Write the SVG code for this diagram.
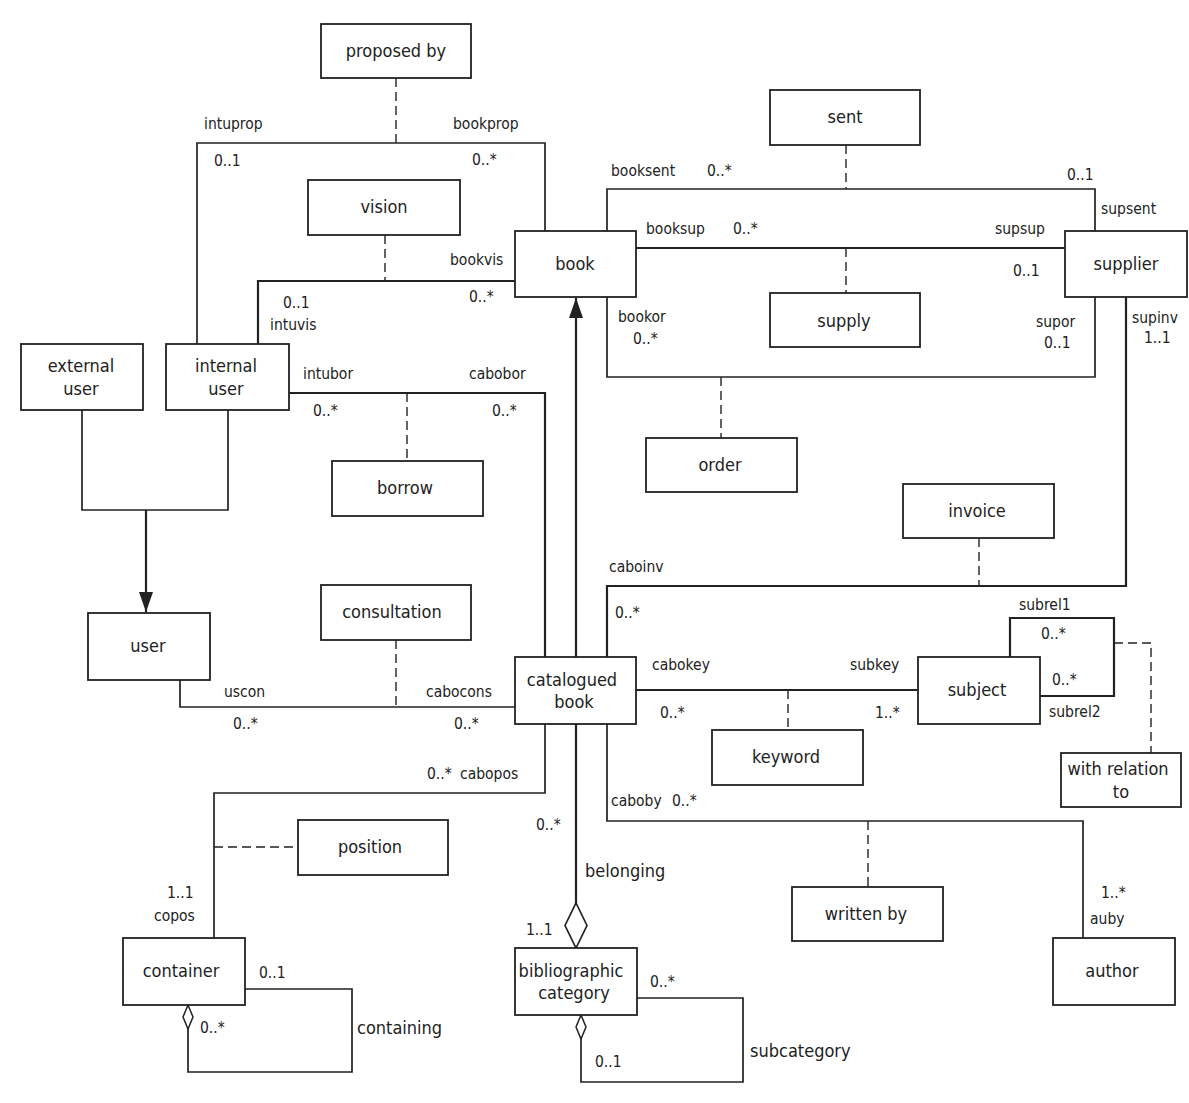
<svg xmlns="http://www.w3.org/2000/svg" width="1189" height="1103" viewBox="0 0 1189 1103">
<style>
.box{fill:#fff;stroke:#222;stroke-width:1.8}
.nt{font-family:"DejaVu Sans Condensed","DejaVu Sans",sans-serif;font-size:18px;fill:#222;text-anchor:middle}
.lb{font-family:"DejaVu Sans Condensed","DejaVu Sans",sans-serif;font-size:15.5px;fill:#222}
.big{font-size:18px}
.ln{fill:none;stroke:#222;stroke-width:1.7}
.th{stroke-width:2.2}
.ds{fill:none;stroke:#222;stroke-width:1.4;stroke-dasharray:9,5}
</style>
<defs>
<marker id="tri" markerUnits="userSpaceOnUse" viewBox="0 0 20 14" refX="20" refY="7" markerWidth="20" markerHeight="14" orient="auto">
<path d="M0,0 L20,7 L0,14 z" fill="#222"/>
</marker>
<marker id="dbig" markerUnits="userSpaceOnUse" viewBox="-1 -1 47 24" refX="45" refY="11" markerWidth="47" markerHeight="24" orient="auto">
<path d="M0,11 L22.5,0 L45,11 L22.5,22 z" fill="#fff" stroke="#222" stroke-width="1.7"/>
</marker>
<marker id="dsm" markerUnits="userSpaceOnUse" viewBox="-1 -1 26 12" refX="24" refY="5" markerWidth="26" markerHeight="12" orient="auto">
<path d="M0,5 L12,0 L24,5 L12,10 z" fill="#fff" stroke="#222" stroke-width="1.5"/>
</marker>
</defs>
<rect width="1189" height="1103" fill="#fff"/>
<g id="connectors">
<path class="ln" d="M197,344 V143 H545 V231"/>
<path class="ds" d="M396,78 V143"/>
<path class="ln th" d="M258,344 V281 H515"/>
<path class="ds" d="M385,235 V281"/>
<path class="ln" d="M607,231 V189 H1095 V231"/>
<path class="ds" d="M846,145 V189"/>
<path class="ln th" d="M636,248 H1065"/>
<path class="ds" d="M846,248 V293"/>
<path class="ln" d="M607,297 V377 H1095 V297"/>
<path class="ds" d="M721,377 V438"/>
<path class="ln" d="M82,410 V510 H228 V410"/>
<path class="ln th" d="M146,510 V612" marker-end="url(#tri)"/>
<path class="ln th" d="M576,657 V298" marker-end="url(#tri)"/>
<path class="ln th" d="M289,393 H545 V657"/>
<path class="ds" d="M407,393 V461"/>
<path class="ln" d="M180,680 V707 H515"/>
<path class="ds" d="M396,640 V707"/>
<path class="ln th" d="M607,657 V586 H1126 V297"/>
<path class="ds" d="M979,538 V586"/>
<path class="ln th" d="M636,690 H918"/>
<path class="ds" d="M788,690 V730"/>
<path class="ln th" d="M1010,657 V618 H1114 V696 H1040"/>
<path class="ds" d="M1114,643 H1151 V753"/>
<path class="ln" d="M607,724 V821 H1083 V938"/>
<path class="ds" d="M868,821 V887"/>
<path class="ln" d="M545,724 V793 H214 V938"/>
<path class="ds" d="M214,847 H298"/>
<path class="ln th" d="M576,724 V948" marker-end="url(#dbig)"/>
<path class="ln" d="M245,989 H352 V1072 H188 V1005" marker-end="url(#dsm)"/>
<path class="ln" d="M637,998 H743 V1082 H581 V1015" marker-end="url(#dsm)"/>
</g>
<g id="labels">
<text class="lb" x="204" y="129">intuprop</text>
<text class="lb" x="214" y="166">0..1</text>
<text class="lb" x="453" y="129">bookprop</text>
<text class="lb" x="472" y="165">0..*</text>
<text class="lb" x="450" y="265">bookvis</text>
<text class="lb" x="469" y="302">0..*</text>
<text class="lb" x="283" y="308">0..1</text>
<text class="lb" x="270" y="330">intuvis</text>
<text class="lb" x="611" y="176">booksent</text>
<text class="lb" x="707" y="176">0..*</text>
<text class="lb" x="1067" y="180">0..1</text>
<text class="lb" x="1101" y="214">supsent</text>
<text class="lb" x="646" y="234">booksup</text>
<text class="lb" x="733" y="234">0..*</text>
<text class="lb" x="995" y="234">supsup</text>
<text class="lb" x="1013" y="276">0..1</text>
<text class="lb" x="618" y="322">bookor</text>
<text class="lb" x="633" y="344">0..*</text>
<text class="lb" x="1036" y="327">supor</text>
<text class="lb" x="1044" y="348">0..1</text>
<text class="lb" x="1132" y="323">supinv</text>
<text class="lb" x="1144" y="343">1..1</text>
<text class="lb" x="303" y="379">intubor</text>
<text class="lb" x="313" y="416">0..*</text>
<text class="lb" x="469" y="379">cabobor</text>
<text class="lb" x="492" y="416">0..*</text>
<text class="lb" x="609" y="572">caboinv</text>
<text class="lb" x="615" y="618">0..*</text>
<text class="lb" x="1019" y="610">subrel1</text>
<text class="lb" x="1041" y="639">0..*</text>
<text class="lb" x="1052" y="685">0..*</text>
<text class="lb" x="1049" y="717">subrel2</text>
<text class="lb" x="652" y="670">cabokey</text>
<text class="lb" x="850" y="670">subkey</text>
<text class="lb" x="660" y="718">0..*</text>
<text class="lb" x="875" y="718">1..*</text>
<text class="lb" x="224" y="697">uscon</text>
<text class="lb" x="233" y="729">0..*</text>
<text class="lb" x="426" y="697">cabocons</text>
<text class="lb" x="454" y="729">0..*</text>
<text class="lb" x="427" y="779">0..*</text>
<text class="lb" x="460" y="779">cabopos</text>
<text class="lb" x="611" y="806">caboby</text>
<text class="lb" x="672" y="806">0..*</text>
<text class="lb" x="536" y="830">0..*</text>
<text class="lb big" x="585" y="877">belonging</text>
<text class="lb" x="526" y="935">1..1</text>
<text class="lb" x="1101" y="898">1..*</text>
<text class="lb" x="1090" y="924">auby</text>
<text class="lb" x="167" y="898">1..1</text>
<text class="lb" x="154" y="921">copos</text>
<text class="lb" x="259" y="978">0..1</text>
<text class="lb" x="200" y="1033">0..*</text>
<text class="lb big" x="357" y="1034">containing</text>
<text class="lb" x="650" y="987">0..*</text>
<text class="lb" x="595" y="1067">0..1</text>
<text class="lb big" x="750" y="1057">subcategory</text>
</g>
<g id="proposed_by"><rect class="box" x="321" y="24" width="150" height="54"/><text class="nt" x="396" y="57">proposed by</text></g>
<g id="vision"><rect class="box" x="308" y="180" width="152" height="55"/><text class="nt" x="384" y="213">vision</text></g>
<g id="sent"><rect class="box" x="770" y="90" width="150" height="55"/><text class="nt" x="845" y="123">sent</text></g>
<g id="book"><rect class="box" x="515" y="231" width="121" height="66"/><text class="nt" x="575" y="270">book</text></g>
<g id="supplier"><rect class="box" x="1065" y="231" width="122" height="66"/><text class="nt" x="1126" y="270">supplier</text></g>
<g id="supply"><rect class="box" x="770" y="293" width="150" height="54"/><text class="nt" x="844" y="327">supply</text></g>
<g id="order"><rect class="box" x="646" y="438" width="151" height="54"/><text class="nt" x="720" y="471">order</text></g>
<g id="external_user"><rect class="box" x="21" y="344" width="122" height="66"/><text class="nt" x="81" y="372">external</text><text class="nt" x="81" y="395">user</text></g>
<g id="internal_user"><rect class="box" x="166" y="344" width="123" height="66"/><text class="nt" x="226" y="372">internal</text><text class="nt" x="226" y="395">user</text></g>
<g id="borrow"><rect class="box" x="332" y="461" width="151" height="55"/><text class="nt" x="405" y="494">borrow</text></g>
<g id="invoice"><rect class="box" x="903" y="484" width="151" height="54"/><text class="nt" x="977" y="517">invoice</text></g>
<g id="consultation"><rect class="box" x="321" y="585" width="150" height="55"/><text class="nt" x="392" y="618">consultation</text></g>
<g id="user"><rect class="box" x="88" y="613" width="122" height="67"/><text class="nt" x="148" y="652">user</text></g>
<g id="catalogued_book"><rect class="box" x="515" y="657" width="121" height="67"/><text class="nt" x="572" y="686">catalogued</text><text class="nt" x="574" y="708">book</text></g>
<g id="subject"><rect class="box" x="918" y="657" width="122" height="67"/><text class="nt" x="977" y="696">subject</text></g>
<g id="keyword"><rect class="box" x="712" y="730" width="151" height="55"/><text class="nt" x="786" y="763">keyword</text></g>
<g id="with_relation_to"><rect class="box" x="1061" y="753" width="120" height="54"/><text class="nt" x="1118" y="775">with relation</text><text class="nt" x="1121" y="798">to</text></g>
<g id="position"><rect class="box" x="298" y="820" width="150" height="55"/><text class="nt" x="370" y="853">position</text></g>
<g id="written_by"><rect class="box" x="792" y="887" width="151" height="54"/><text class="nt" x="866" y="920">written by</text></g>
<g id="container"><rect class="box" x="123" y="938" width="122" height="67"/><text class="nt" x="181" y="977">container</text></g>
<g id="bibliographic_category"><rect class="box" x="515" y="948" width="122" height="67"/><text class="nt" x="571" y="977">bibliographic</text><text class="nt" x="574" y="999">category</text></g>
<g id="author"><rect class="box" x="1053" y="938" width="122" height="67"/><text class="nt" x="1112" y="977">author</text></g>
</svg>
